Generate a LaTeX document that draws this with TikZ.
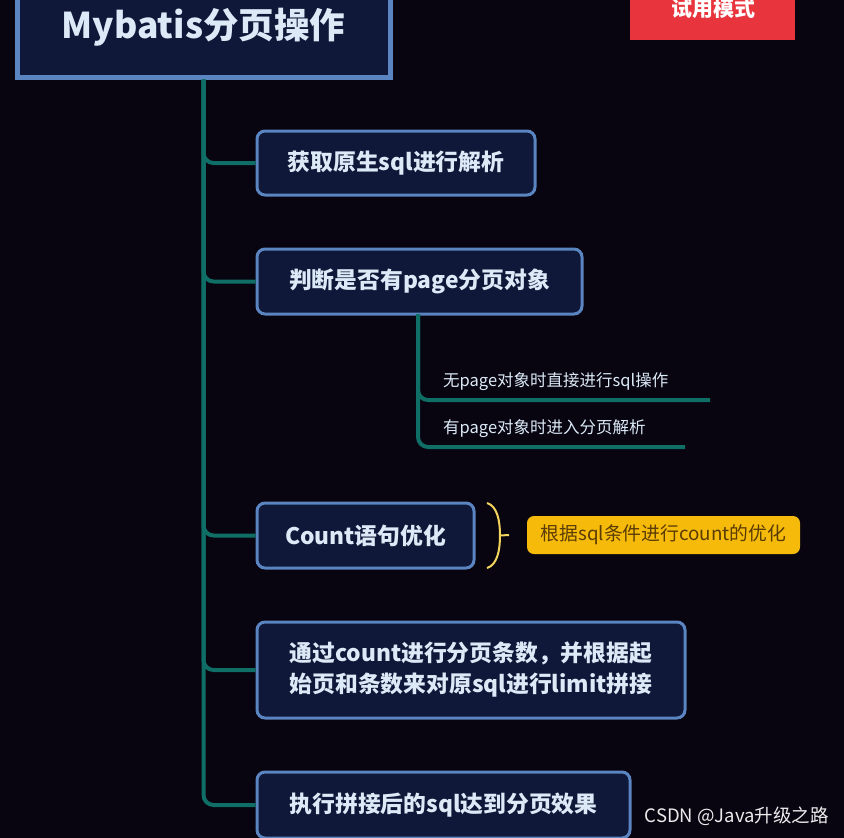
\documentclass[tikz,border=0pt]{standalone}
\usepackage{fontspec}
\setmainfont{Noto Sans CJK SC}
\newfontfamily\wmfont{Noto Sans CJK SC}
\definecolor{bgc}{HTML}{080410}
\definecolor{boxfill}{HTML}{0F1838}
\definecolor{boxline}{HTML}{5A85C0}
\definecolor{txtc}{HTML}{DCEAF8}
\definecolor{teal}{HTML}{0F6E66}
\definecolor{redc}{HTML}{E8353D}
\definecolor{yel}{HTML}{F6BB0A}
\definecolor{yeltxt}{HTML}{5A3C05}
\definecolor{brace}{HTML}{F2D45C}
\begin{document}
\begin{tikzpicture}[x=1pt,y=-1pt,
  topicbox/.style={draw=boxline,line width=3pt,fill=boxfill,rounded corners=8pt,
    text=txtc,font=\fontsize{22.8}{31}\selectfont\bfseries,inner sep=0pt},
  branch/.style={draw=teal,line width=4pt,rounded corners=10pt},
  subtext/.style={text=txtc,font=\fontsize{16.5}{20}\selectfont,anchor=west,inner sep=0pt}]
\useasboundingbox (0,0) rectangle (844,838);
\clip (0,0) rectangle (844,838);
\fill[bgc] (0,0) rectangle (844,838);
% red badge
\node[fill=redc,minimum width=165pt,minimum height=70pt,inner sep=0pt,anchor=north west] (badge) at (630,-30) {};
\node[text=white,font=\fontsize{21}{24}\selectfont\bfseries,inner sep=0pt] (badgetxt) at (713,9) {试用模式};
% root
\node[draw=boxline,line width=5pt,fill=boxfill,minimum width=373pt,minimum height=100pt,inner sep=0pt,
  text=txtc,font=\fontsize{35.5}{40}\selectfont\bfseries] (root) at (203.5,27) {Mybatis分页操作};
% topics
\node[topicbox,minimum width=278pt,minimum height=64pt] (t1) at (396,163) {获取原生sql进行解析};
\node[topicbox,minimum width=325pt,minimum height=65pt] (t2) at (419.5,281.5) {判断是否有page分页对象};
\node[topicbox,minimum width=217pt,minimum height=65pt] (t3) at (365.5,535.5) {Count语句优化};
\node[topicbox,minimum width=428pt,minimum height=96pt,align=left] (t4) at (471,670) {通过count进行分页条数，并根据起\\始页和条数来对原sql进行limit拼接};
\node[topicbox,minimum width=373pt,minimum height=66pt] (t5) at (443.5,805) {执行拼接后的sql达到分页效果};
% branches
\foreach \t in {t1,t2,t3,t4,t5}{
  \draw[branch] (root.south) |- (\t.west);
}
% sub topics
\coordinate (s1end) at (710,400);
\coordinate (s2end) at (685,447);
\coordinate (t2foot) at (418,314);
\draw[branch] (t2foot) |- (s1end);
\draw[branch] (t2foot) |- (s2end);
\node[subtext] (s1) at (443,382) {无page对象时直接进行sql操作};
\node[subtext] (s2) at (443,429) {有page对象时进入分页解析};
% brace and summary
\coordinate (bt) at (487,503);
\coordinate (bb) at (487,568);
\coordinate (bm) at (500,535.5);
\draw[brace,line width=2pt] (bt) .. controls (497,506) and (500,520) .. (bm) .. controls (500,551) and (497,565) .. (bb);
\node[fill=yel,rounded corners=7pt,minimum width=273pt,minimum height=38pt,inner sep=0pt,
  text=yeltxt,font=\fontsize{18.8}{22}\selectfont] (sum) at (663.5,535) {根据sql条件进行count的优化};
\draw[brace,line width=2pt] (bm) -- (sum.west -| 509,0);
% watermark
\node[text=white!85!gray,font=\wmfont\fontsize{18.5}{22}\selectfont,anchor=east,inner sep=0pt] (wm) at (829,816) {CSDN @Java升级之路};
\end{tikzpicture}
\end{document}
